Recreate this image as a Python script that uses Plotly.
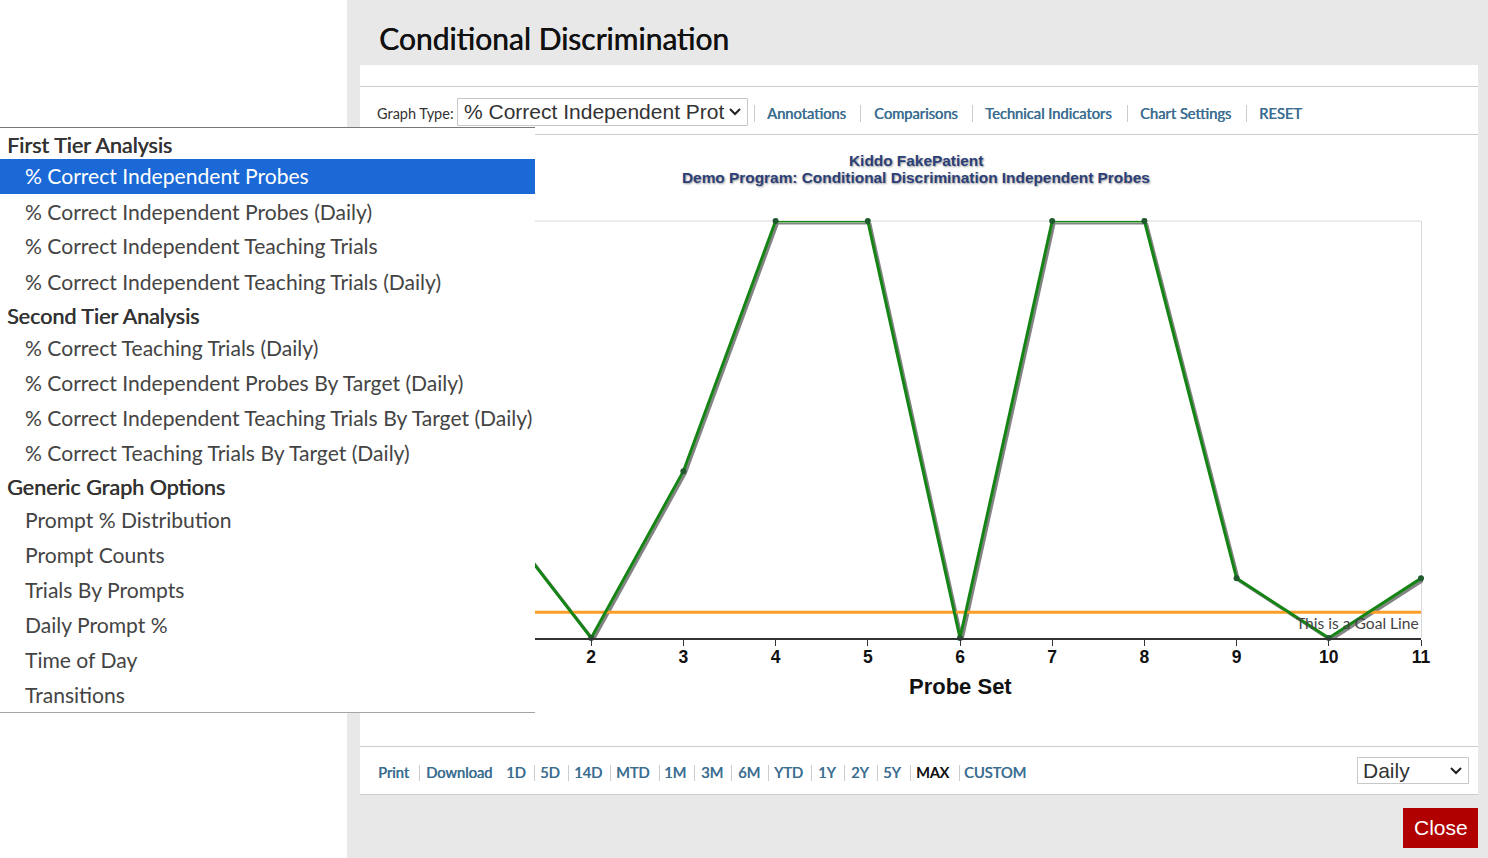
"""Conditional Discrimination probe chart inside its dialog, with the graph type menu open."""
import plotly.graph_objects as go

W, H = 1488, 858

# chart data
probe_sets = [1, 2, 3, 4, 5, 6, 7, 8, 9, 10, 11]
pct_correct = [28.6, 0, 40, 100, 100, 0, 100, 100, 14.3, 0, 14.3]
goal_value = [6.2, 6.2]
goal_span = [1, 11]
x_ticks = [2, 3, 4, 5, 6, 7, 8, 9, 10, 11]

# page texts
top_links = ["Annotations", "Comparisons", "Technical Indicators", "Chart Settings", "RESET"]
top_link_x = [767, 874, 985, 1140, 1259]
top_seps = [754, 860, 972, 1127, 1246]
range_links = ["Print", "Download", "1D", "5D", "14D", "MTD", "1M", "3M", "6M", "YTD", "1Y", "2Y", "5Y", "MAX", "CUSTOM"]
range_link_x = [378, 426, 506, 540, 574, 616, 664, 701, 738, 774, 818, 851, 883, 916, 964]
range_seps = [419, 534, 568, 610, 659, 694, 731, 768, 811, 844, 877, 910, 959]
menu_items = [
    ("First Tier Analysis", 146, True),
    ("% Correct Independent Probes", 177, False),
    ("% Correct Independent Probes (Daily)", 212, False),
    ("% Correct Independent Teaching Trials", 247, False),
    ("% Correct Independent Teaching Trials (Daily)", 282, False),
    ("Second Tier Analysis", 317, True),
    ("% Correct Teaching Trials (Daily)", 348, False),
    ("% Correct Independent Probes By Target (Daily)", 383, False),
    ("% Correct Independent Teaching Trials By Target (Daily)", 418, False),
    ("% Correct Teaching Trials By Target (Daily)", 453, False),
    ("Generic Graph Options", 488, True),
    ("Prompt % Distribution", 520, False),
    ("Prompt Counts", 555, False),
    ("Trials By Prompts", 590, False),
    ("Daily Prompt %", 625, False),
    ("Time of Day", 660, False),
    ("Transitions", 695, False),
]

LINK = "#3b6e91"
UI_FONT = "Lato"
CHART_FONT = "Liberation Sans"


def px(x):
    return x / W


def py(y):
    return 1 - y / H


def rect(x0, y0, x1, y1, fill, line=None, layer="below"):
    return dict(type="rect", xref="paper", yref="paper", x0=px(x0), x1=px(x1), y0=py(y0), y1=py(y1),
                fillcolor=fill, line=dict(color=line or fill, width=1 if line else 0), layer=layer)


def seg(x0, y0, x1, y1, color, width=1, layer="below"):
    return dict(type="line", xref="paper", yref="paper", x0=px(x0), x1=px(x1), y0=py(y0), y1=py(y1),
                line=dict(color=color, width=width), layer=layer)


def chevron(cx, cy):
    return dict(type="path", xref="paper", yref="paper", layer="above",
                path=f"M {px(cx - 5)} {py(cy - 2)} L {px(cx)} {py(cy + 3)} L {px(cx + 5)} {py(cy - 2)}",
                line=dict(color="#222222", width=2))


def label(text, x, y, size, color="#333333", family=UI_FONT, anchor="left", **font_opts):
    # y - 1: annotations sit about a pixel low against the page text
    return dict(text=text, xref="paper", yref="paper", x=px(x), y=py(y - 1), xanchor=anchor, yanchor="middle",
                showarrow=False, borderpad=0, borderwidth=0,
                font=dict(size=size, color=color, family=family, **font_opts))


def semibold(color):
    # Lato has no medium weight here, a thin text shadow gets close
    return f"0.5px 0 0 {color}"


fig = go.Figure()

# shadow sits on its own axes, nudged a couple of pixels down and right
fig.add_trace(go.Scatter(x=probe_sets, y=pct_correct, mode="lines", xaxis="x", yaxis="y",
                         line=dict(color="rgba(100,100,100,0.8)", width=3),
                         cliponaxis=False, showlegend=False, hoverinfo="skip"))
fig.add_trace(go.Scatter(x=goal_span, y=goal_value, mode="lines", xaxis="x2", yaxis="y2",
                         line=dict(color="#fb9f28", width=3), showlegend=False, name="Goal"))
fig.add_trace(go.Scatter(x=probe_sets, y=pct_correct, mode="lines+markers", xaxis="x2", yaxis="y2",
                         line=dict(color="#148514", width=3),
                         marker=dict(size=6, color="#1f5a2c"),
                         cliponaxis=False, showlegend=False, name="% Correct"))

shapes = [
    rect(347, 0, W, H, "#e8e8e8"),
    rect(360, 65, 1478, 795, "#ffffff"),
    seg(360, 86.5, 1478, 86.5, "#cccccc"),
    seg(360, 134.5, 1478, 134.5, "#cccccc"),
    seg(360, 746.5, 1478, 746.5, "#cccccc"),
    seg(360, 794.5, 1478, 794.5, "#cccccc"),
    seg(499, 221, 1421, 221, "#d8d8d8"),
    seg(1421.5, 221, 1421.5, 638, "#d8d8d8"),
    rect(457.5, 98.5, 747.5, 125.5, "#ffffff", "#c8c8c8"),
    rect(1357.5, 757.5, 1468.5, 783.5, "#ffffff", "#c8c8c8"),
    chevron(735, 111),
    chevron(1456, 770),
    rect(1403, 808, 1478, 848, "#b00000"),
    rect(0, 127, 535, 713, "#ffffff", layer="above"),
    seg(0, 127.5, 535, 127.5, "#777777", layer="above"),
    seg(0, 712.5, 535, 712.5, "#a5a5a5", layer="above"),
    rect(0, 159, 535, 194, "#1a69d6", layer="above"),
]
shapes += [seg(x + 0.5, 105, x + 0.5, 122, "#cccccc") for x in top_seps]
shapes += [seg(x + 0.5, 765, x + 0.5, 781, "#cccccc") for x in range_seps]

annotations = [
    label("Conditional Discrimination", 379, 39, 30, "#111111", shadow=semibold("#111111")),
    label("Graph Type:", 377, 114, 14.5, "#333333"),
    label("% Correct Independent Prot", 464, 112, 21, "#333333", CHART_FONT),
    label("Daily", 1363, 771, 21, "#333333", CHART_FONT),
    label("Close", 1440.5, 828, 21, "#ffffff", CHART_FONT, anchor="center"),
    label("Kiddo FakePatient", 916, 161, 15.4, "#2b3f78", CHART_FONT, anchor="center",
          weight=700, shadow="1px 1px 2px #999999"),
    label("Demo Program: Conditional Discrimination Independent Probes", 916, 179, 15.4, "#2b3f78", CHART_FONT,
          anchor="center", weight=700, shadow="1px 1px 2px #999999"),
    label("This is a Goal Line", 1419, 624, 15.6, "#444444", anchor="right"),
    label("Probe Set", 960, 687, 22, "#111111", CHART_FONT, anchor="center", weight=700),
]
for text, x in zip(top_links, top_link_x):
    annotations.append(label(text, x, 114, 14.7, LINK, shadow=semibold(LINK)))
for text, x in zip(range_links, range_link_x):
    color = "#111111" if text == "MAX" else LINK
    annotations.append(label(text, x, 773, 14.7, color, shadow=semibold(color)))
for text, y, is_header in menu_items:
    if is_header:
        annotations.append(label(text, 7, y, 21.5, "#333333", shadow=semibold("#333333")))
    else:
        color = "#ffffff" if y == 177 else "#444444"
        annotations.append(label(text, 25, y, 21.1, color))

fig.update_layout(
    width=W, height=H,
    margin=dict(l=0, r=0, t=0, b=0),
    paper_bgcolor="#ffffff",
    plot_bgcolor="rgba(0,0,0,0)",
    showlegend=False,
    shapes=shapes,
    annotations=annotations,
    xaxis=dict(domain=[px(501), px(1423)], range=[1, 11], visible=False, anchor="y", automargin=False),
    yaxis=dict(domain=[py(640), py(223)], range=[0, 100], visible=False, anchor="x", automargin=False),
    xaxis2=dict(domain=[px(499), px(1421)], range=[1, 11], anchor="y2", automargin=False,
                tickvals=x_ticks, ticks="outside", ticklen=6, tickcolor="#333333", ticklabelstandoff=-4,
                showgrid=False, zeroline=False, showline=True, linecolor="#333333", linewidth=2,
                tickfont=dict(family=CHART_FONT, size=17.5, color="#111111", weight=700)),
    yaxis2=dict(domain=[py(638), py(221)], range=[0, 100], anchor="x2", automargin=False,
                showgrid=False, zeroline=False, showticklabels=False),
)

# the default page margin would push the figure off the window
fig.write_html(
    "out.html",
    config={"displayModeBar": False},
    post_script="document.body.style.margin='0';document.body.style.overflow='hidden';",
)
